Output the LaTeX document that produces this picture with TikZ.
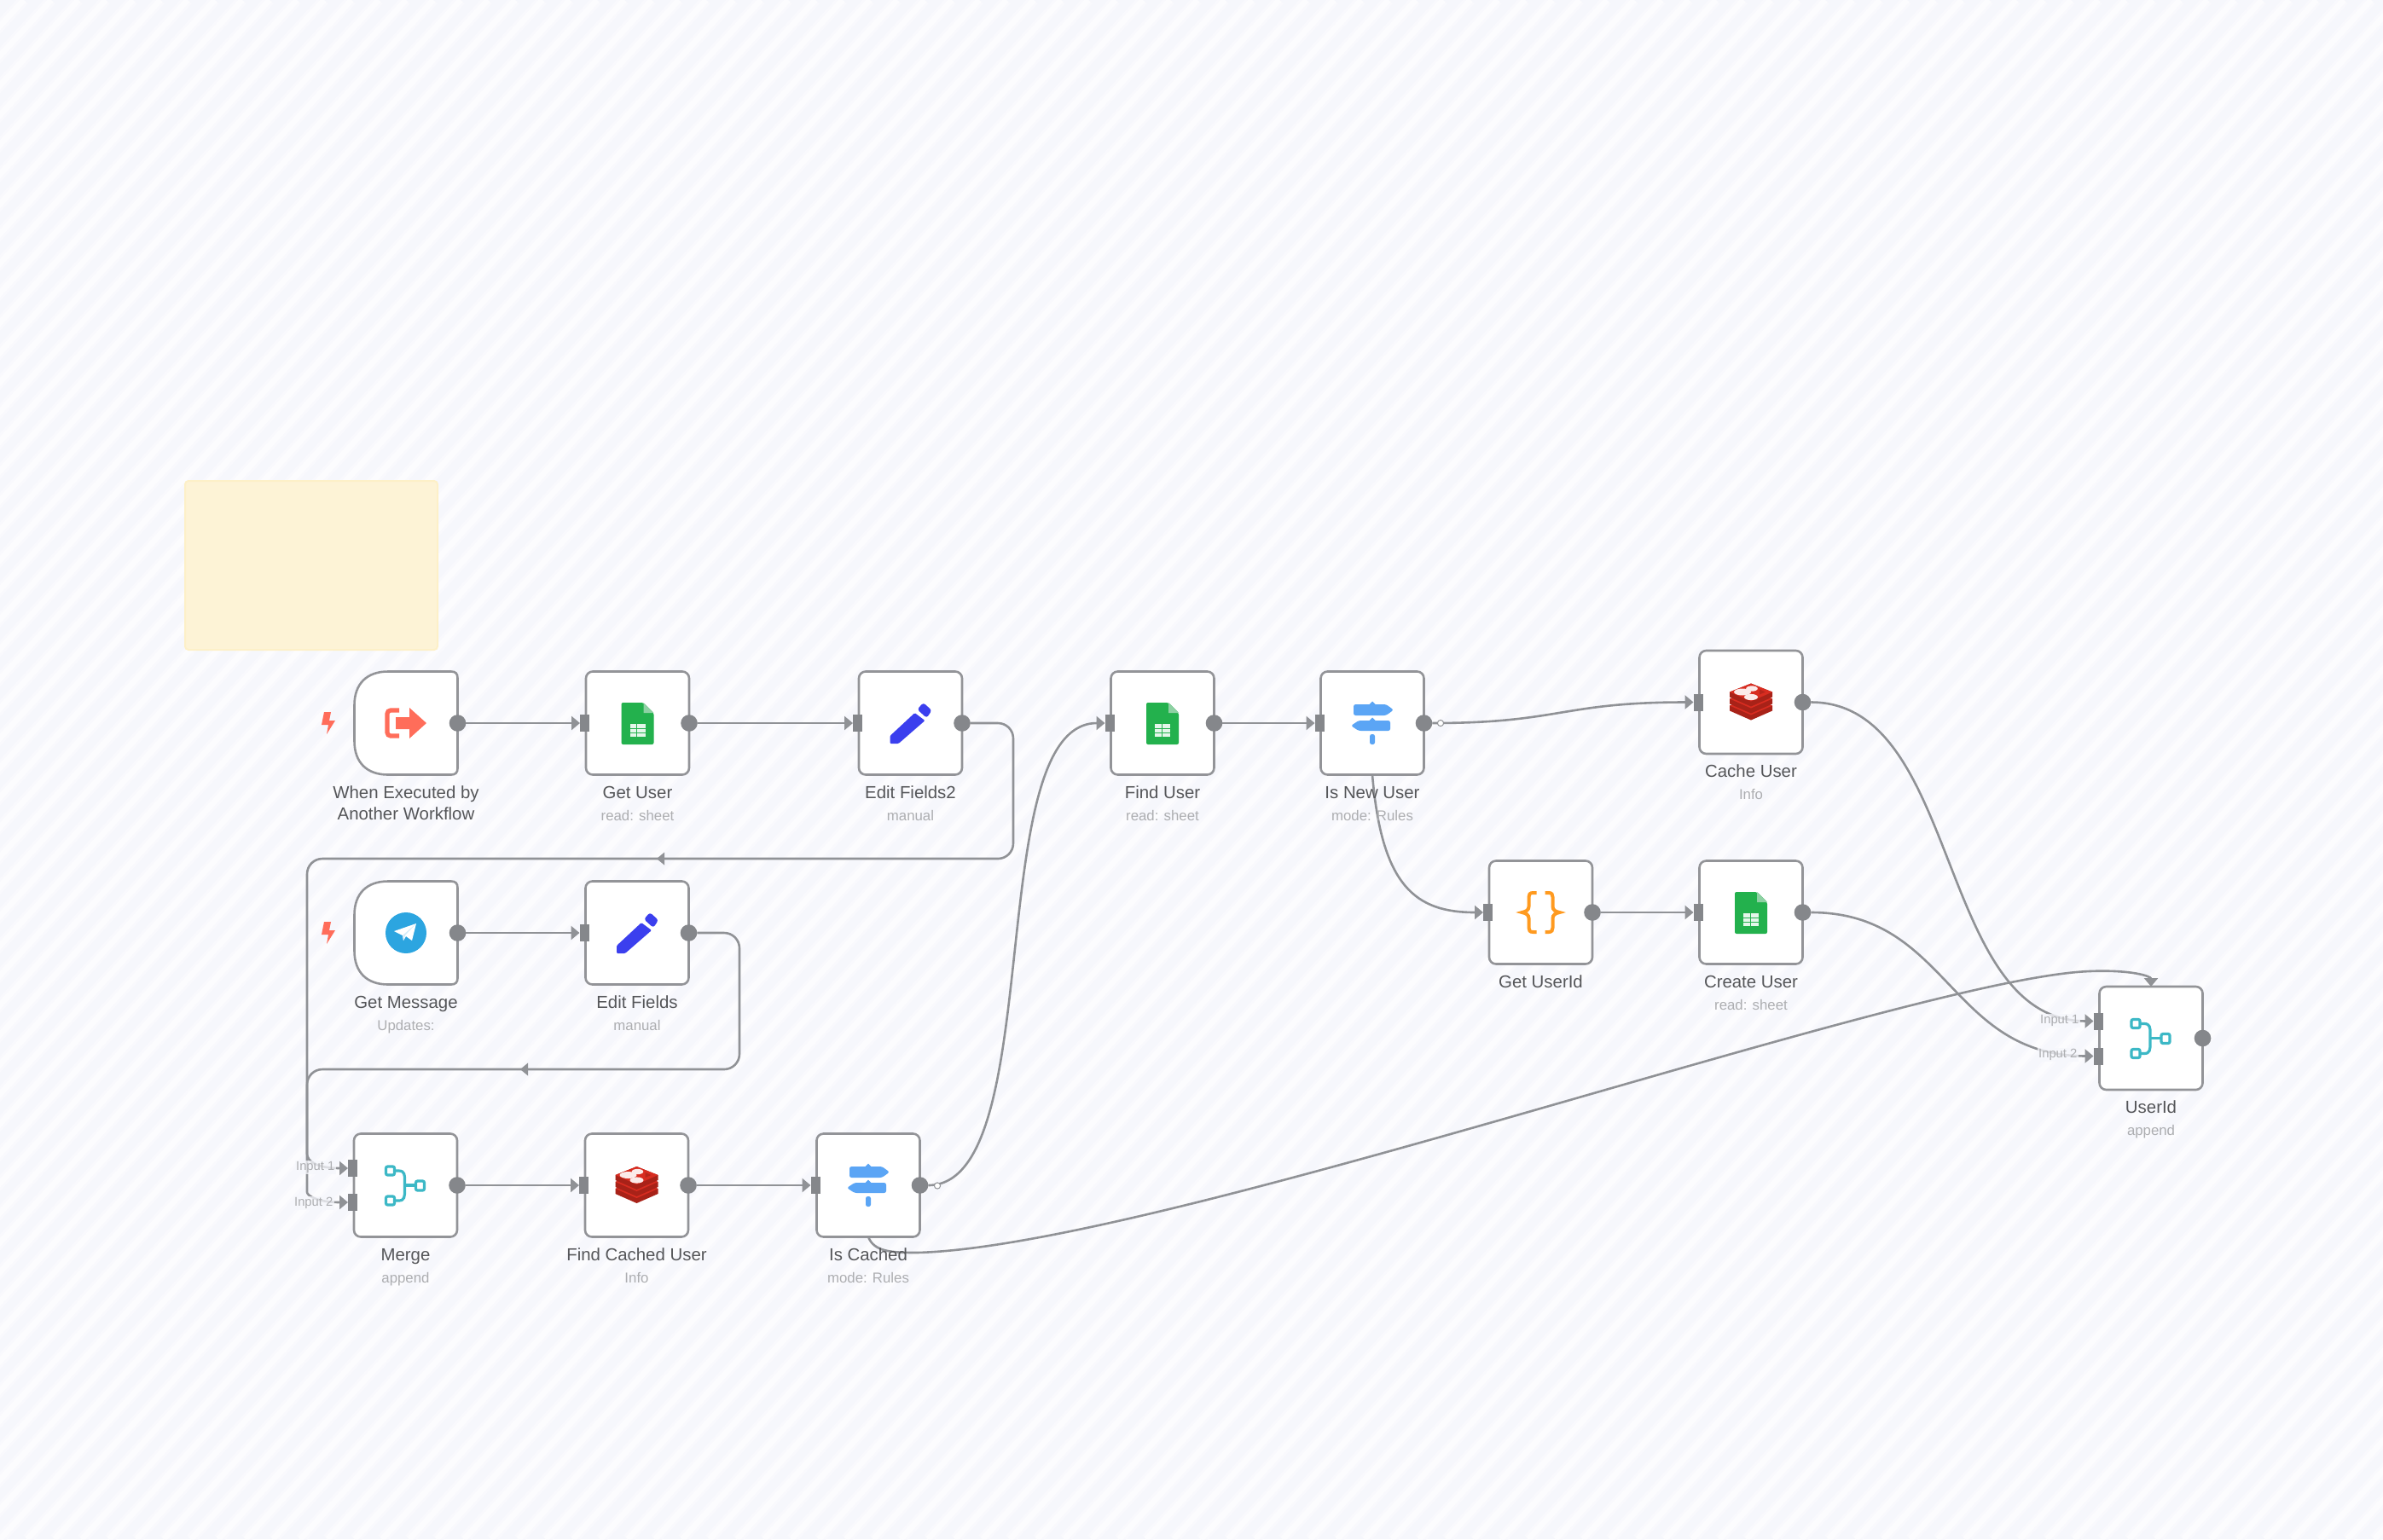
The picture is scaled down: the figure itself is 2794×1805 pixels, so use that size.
\documentclass[tikz,border=0pt]{standalone}
\usepackage{fontspec}
\setmainfont{Liberation Sans}
\usetikzlibrary{arrows.meta}
\definecolor{bgbase}{HTML}{F6F7FC}
\definecolor{bgstripe}{HTML}{FCFCFE}
\definecolor{stickyfill}{HTML}{FDF3D6}
\definecolor{stickyline}{HTML}{FDF0C8}
\definecolor{wire}{HTML}{909296}
\definecolor{portcol}{HTML}{85878B}
\definecolor{boxline}{HTML}{939498}
\definecolor{titlecol}{HTML}{555659}
\definecolor{subcol}{HTML}{ADAEB1}
\definecolor{coral}{HTML}{FF6D5A}
\definecolor{sheetgreen}{HTML}{23B14D}
\definecolor{sheetfold}{HTML}{8ED1A3}
\definecolor{pencilblue}{HTML}{3B3FEE}
\definecolor{teal}{HTML}{3CB8C6}
\definecolor{signblue}{HTML}{5BA5F5}
\definecolor{codeorange}{HTML}{FF9A1F}
\definecolor{redisdark}{HTML}{A82218}
\definecolor{redismid}{HTML}{D82C20}
\definecolor{tgblue}{HTML}{2CA5E0}
\tikzset{
  wfbox/.style={draw=boxline,line width=1.3pt,fill=white,rounded corners=4pt,minimum size=60.5pt,inner sep=0pt,outer sep=0pt},
  wfhidden/.style={minimum size=60.5pt,inner sep=0pt,outer sep=0pt},
  trigline/.style={draw=boxline,line width=1.3pt,fill=white},
  outport/.style={circle,fill=portcol,minimum size=9.8pt,inner sep=0pt,outer sep=0pt},
  inport/.style={rectangle,fill=portcol,minimum width=5.5pt,minimum height=10pt,inner sep=0pt,outer sep=0pt,xshift=-0.75pt},
  openport/.style={circle,draw=wire,fill=white,line width=0.5pt,minimum size=3.6pt,inner sep=0pt},
  wireline/.style={draw=wire,line width=1.3pt},
  wirearrow/.style={wireline,-{Triangle[length=5pt,width=8pt]}},
  titletext/.style={anchor=base,text=titlecol,font=\fontsize{10.2}{12.5}\selectfont,align=center,inner sep=0pt,yshift=-44pt},
  subtext/.style={anchor=base,text=subcol,font=\fontsize{8.4}{10}\selectfont,inner sep=0pt,yshift=-57pt},
  inputtext/.style={text=subcol,font=\fontsize{7.4}{9}\selectfont,anchor=east,inner sep=0.6pt,fill=bgbase,fill opacity=0.75,text opacity=1},
  sticky/.style={draw=stickyline,line width=1pt,fill=stickyfill,rounded corners=2pt,inner sep=0pt,outer sep=0pt,minimum width=148pt,minimum height=99pt},
}
\newcommand{\iconsheet}[1]{\begin{scope}[shift={(#1.center)}]
  \fill[sheetgreen,rounded corners=1pt] (-19,-24) -- (7,-24) -- (19,-12) -- (19,25) -- (-19,25) -- cycle;
  \fill[sheetfold] (7,-24) -- (19,-12) -- (7,-12) -- cycle;
  \fill[white!88!sheetgreen] (-9,1) rectangle (9,16);
  \draw[sheetgreen,line width=0.5pt] (-9,6) -- (9,6) (-9,11) -- (9,11) (-1,1) -- (-1,16);
\end{scope}}
\newcommand{\iconpencil}[1]{\begin{scope}[shift={(#1.center)}]
  \fill[pencilblue,rounded corners=0.6pt] (-24,24) -- (-24,15) -- (5,-12) -- (17,-3) -- (-14,24) -- cycle;
  \fill[pencilblue,rounded corners=1.5pt] (8,-16) -- (15,-24) -- (25,-15) -- (19,-6) -- cycle;
\end{scope}}
\newcommand{\iconredis}[1]{\begin{scope}[shift={(#1.center)}]
  \foreach \d in {16,8,0}{
    \fill[redisdark] (-25,-12+\d) -- (-25,-6+\d) -- (0,5+\d) -- (25,-6+\d) -- (25,-12+\d) -- (0,-22+\d) -- cycle;
    \fill[redismid] (-25,-12+\d) -- (0,-1+\d) -- (25,-12+\d) -- (0,-22+\d) -- cycle;
  }
  \fill[white!90!redismid] (-10,-12) ellipse (5pt and 2pt);
  \fill[white!90!redismid] (1,-16) ellipse (3.4pt and 1.6pt);
  \fill[white!90!redismid] (0,-6) ellipse (4pt and 1.8pt);
  \fill[redisdark!70!redismid] (10,-15) -- (17,-12) -- (10,-9) -- cycle;
\end{scope}}
\newcommand{\iconmerge}[1]{\begin{scope}[shift={(#1.center)},teal,line width=1.6pt]
  \draw[rounded corners=1pt] (-23,-22) rectangle (-13,-12);
  \draw[rounded corners=1pt] (-23,13) rectangle (-13,23);
  \draw[rounded corners=1pt] (12,-5) rectangle (22,6);
  \draw (-13,-17) -- (-8,-17) .. controls (-1,-17) and (-1,-12) .. (-1,-6) -- (-1,6) .. controls (-1,13) and (-1,18) .. (-8,18) -- (-13,18);
  \draw (-1,0) -- (12,0);
\end{scope}}
\newcommand{\iconswitch}[1]{\begin{scope}[shift={(#1.center)}]
  \fill[signblue,rounded corners=1.2pt] (-22,-22) -- (16,-22) -- (25,-15.5) -- (16,-9) -- (-22,-9) -- cycle;
  \fill[signblue,rounded corners=1.2pt] (-16,-3) -- (21,-3) -- (21,9) -- (-16,9) -- (-25,3) -- cycle;
  \fill[signblue] (3.5,-22) -- (0,-25.5) -- (-3.5,-22) -- cycle;
  \fill[signblue] (3.5,-3) -- (0,-6.5) -- (-3.5,-3) -- cycle;
  \fill[signblue,rounded corners=1.2pt] (-3,13) rectangle (3,25);
\end{scope}}
\begin{document}
\begin{tikzpicture}[x=0.5pt,y=-0.5pt]
\useasboundingbox (0,0) rectangle (2794,1805);
% background
\fill[bgbase] (0,0) rectangle (2794,1805);
\begin{scope}
  \clip (0,0) rectangle (2794,1805);
  \foreach \i in {-58,...,90}{
    \pgfmathsetmacro{\xa}{\i*32}
    \pgfmathsetmacro{\xb}{\i*32+1660}
    \draw[bgstripe!50!bgbase,line width=6.5pt] (\xa,1805) -- (\xb,0);
    \draw[bgstripe,line width=3.5pt] (\xa,1805) -- (\xb,0);
  }
\end{scope}
% sticky note
\node[sticky] (note) at (365,663) {};
% boxes
\node[wfhidden] (when) at (476,848) {};
\node[wfbox] (getuser) at (747.5,848) {};
\node[wfbox] (edit2) at (1067.5,848) {};
\node[wfbox] (finduser) at (1363,848) {};
\node[wfbox] (isnew) at (1609,848) {};
\node[wfbox] (cache) at (2053,823.5) {};
\node[wfhidden] (msg) at (476,1094) {};
\node[wfbox] (editf) at (747,1094) {};
\node[wfbox] (getid) at (1806.5,1070) {};
\node[wfbox] (create) at (2053,1070) {};
\node[wfbox] (userid) at (2522,1217.5) {};
\node[wfbox] (merge) at (475.5,1390) {};
\node[wfbox] (fcu) at (746.5,1390) {};
\node[wfbox] (iscached) at (1018,1390) {};
% trigger outlines
\foreach \t in {when,msg}{
  \begin{scope}[shift={(\t.center)}]
    \path[trigline] (-21,-60.5) -- (53,-60.5) .. controls (58,-60.5) and (60.5,-58) .. (60.5,-53) -- (60.5,53) .. controls (60.5,58) and (58,60.5) .. (53,60.5) -- (-21,60.5) .. controls (-46,60.5) and (-60.5,46) .. (-60.5,21) -- (-60.5,-21) .. controls (-60.5,-46) and (-46,-60.5) .. (-21,-60.5) -- cycle;
  \end{scope}
}
% ports
\foreach \n in {when,getuser,edit2,finduser,isnew,cache,msg,editf,getid,create,userid,merge,fcu,iscached}{
  \node[outport] (\n-out) at (\n.east) {};
}
\foreach \n in {getuser,edit2,finduser,isnew,cache,editf,getid,create,fcu,iscached}{
  \node[inport] (\n-in) at (\n.west) {};
}
\node[inport,yshift=10pt] (merge-in1) at (merge.west) {};
\node[inport,yshift=-10pt] (merge-in2) at (merge.west) {};
\node[inport,yshift=10pt] (userid-in1) at (userid.west) {};
\node[inport,yshift=-10.5pt] (userid-in2) at (userid.west) {};
% connectors
\draw[wirearrow] (when-out.east) -- (getuser-in.west);
\draw[wirearrow] (getuser-out.east) -- (edit2-in.west);
\draw[wirearrow] (msg-out.east) -- (editf-in.west);
\draw[wirearrow] (merge-out.east) -- (fcu-in.west);
\draw[wirearrow] (fcu-out.east) -- (iscached-in.west);
\draw[wirearrow] (finduser-out.east) -- (isnew-in.west);
\draw[wirearrow] (getid-out.east) -- (create-in.west);
\draw[wirearrow,rounded corners=9pt] (edit2-out.east) -- (1188,848) -- (1188,1007) -- (360,1007) -- (360,1335) [sharp corners] .. controls (360,1362) and (372,1370) .. (merge-in1.west);
\fill[wire] (770,1007) -- (779,999.5) -- (779,1014.5) -- cycle;
\draw[wirearrow,rounded corners=9pt] (editf-out.east) -- (867,1094) -- (867,1254) -- (360,1254) -- (360,1380) [sharp corners] .. controls (360,1402) and (372,1410) .. (merge-in2.west);
\fill[wire] (610,1254) -- (619,1246.5) -- (619,1261.5) -- cycle;
\draw[wirearrow] (iscached-out.east) .. controls (1230,1390) and (1150,848) .. (finduser-in.west);
\draw[wirearrow] (iscached.south) .. controls (1025,1468) and (1045,1469) .. (1075,1469) .. controls (1360,1462) and (2240,1147) .. (2450,1139) .. controls (2500,1137) and (2522,1145) .. (userid.north);
\draw[wirearrow] (isnew-out.east) .. controls (1830,848) and (1830,823.5) .. (cache-in.west);
\draw[wirearrow] (isnew.south) .. controls (1620,1040) and (1660,1070) .. (getid-in.west);
\draw[wirearrow] (cache-out.east) .. controls (2300,823.5) and (2270,1197) .. (userid-in1.west);
\draw[wirearrow] (create-out.east) .. controls (2285,1070) and (2285,1238) .. (userid-in2.west);
\node[openport] (isnew-open) at (1689,848) {};
\node[openport] (iscached-open) at (1099,1390.5) {};
% trigger bolts
\foreach \t/\by in {when/848,msg/1094}{
  \fill[coral] (380,\by-13) -- (388,\by-13) -- (386,\by-3) -- (393,\by-3) -- (383,\by+13) -- (385,\by+2) -- (377,\by+2) -- cycle;
}
% icons
\begin{scope}[shift={(when.center)}]
  \draw[coral,line width=2.6pt,rounded corners=2pt] (-8,-15) -- (-22,-15) -- (-22,15) -- (-8,15);
  \fill[coral] (-12,-7) -- (4,-7) -- (4,-18) -- (24,0) -- (4,18) -- (4,7) -- (-12,7) -- cycle;
\end{scope}
\iconsheet{getuser}
\iconsheet{finduser}
\iconsheet{create}
\iconpencil{edit2}
\iconpencil{editf}
\iconredis{cache}
\iconredis{fcu}
\iconmerge{merge}
\iconmerge{userid}
\iconswitch{isnew}
\iconswitch{iscached}
\begin{scope}[shift={(msg.center)}]
  \fill[tgblue] (0,0) circle (12pt);
  \fill[white] (-14,-2) -- (12,-11) -- (7,9) -- (0,4) -- (-3,9) -- (-4,3) -- cycle;
  \fill[white!80!tgblue] (12,-11) -- (-4,3) -- (-3,9) -- (-1,3) -- cycle;
\end{scope}
\begin{scope}[shift={(getid.center)},codeorange,line width=2pt]
  \draw (-5,-23) -- (-9,-23) .. controls (-13,-23) and (-14,-21) .. (-14,-18) -- (-14,-7) .. controls (-14,-3) and (-17,-1) .. (-22,0) .. controls (-17,1) and (-14,3) .. (-14,7) -- (-14,18) .. controls (-14,21) and (-13,23) .. (-9,23) -- (-5,23);
  \draw (5,-23) -- (9,-23) .. controls (13,-23) and (14,-21) .. (14,-18) -- (14,-7) .. controls (14,-3) and (17,-1) .. (22,0) .. controls (17,1) and (14,3) .. (14,7) -- (14,18) .. controls (14,21) and (13,23) .. (9,23) -- (5,23);
\end{scope}
% labels
\node[titletext,yshift=-12.5pt] (when-t) at (when.center) {When Executed by\\Another Workflow};
\node[titletext] (getuser-t) at (getuser.center) {Get User};
\node[subtext] (getuser-s) at (getuser.center) {read: sheet};
\node[titletext] (edit2-t) at (edit2.center) {Edit Fields2};
\node[subtext] (edit2-s) at (edit2.center) {manual};
\node[titletext] (finduser-t) at (finduser.center) {Find User};
\node[subtext] (finduser-s) at (finduser.center) {read: sheet};
\node[titletext] (isnew-t) at (isnew.center) {Is New User};
\node[subtext] (isnew-s) at (isnew.center) {mode: Rules};
\node[titletext] (cache-t) at (cache.center) {Cache User};
\node[subtext] (cache-s) at (cache.center) {Info};
\node[titletext] (msg-t) at (msg.center) {Get Message};
\node[subtext] (msg-s) at (msg.center) {Updates:};
\node[titletext] (editf-t) at (editf.center) {Edit Fields};
\node[subtext] (editf-s) at (editf.center) {manual};
\node[titletext] (getid-t) at (getid.center) {Get UserId};
\node[titletext] (create-t) at (create.center) {Create User};
\node[subtext] (create-s) at (create.center) {read: sheet};
\node[titletext] (userid-t) at (userid.center) {UserId};
\node[subtext] (userid-s) at (userid.center) {append};
\node[titletext] (merge-t) at (merge.center) {Merge};
\node[subtext] (merge-s) at (merge.center) {append};
\node[titletext] (fcu-t) at (fcu.center) {Find Cached User};
\node[subtext] (fcu-s) at (fcu.center) {Info};
\node[titletext] (iscached-t) at (iscached.center) {Is Cached};
\node[subtext] (iscached-s) at (iscached.center) {mode: Rules};
\node[inputtext] (m1) at (394,1369) {Input 1};
\node[inputtext] (m2) at (392,1411) {Input 2};
\node[inputtext] (u1) at (2439,1197) {Input 1};
\node[inputtext] (u2) at (2437,1237) {Input 2};
\end{tikzpicture}
\end{document}
